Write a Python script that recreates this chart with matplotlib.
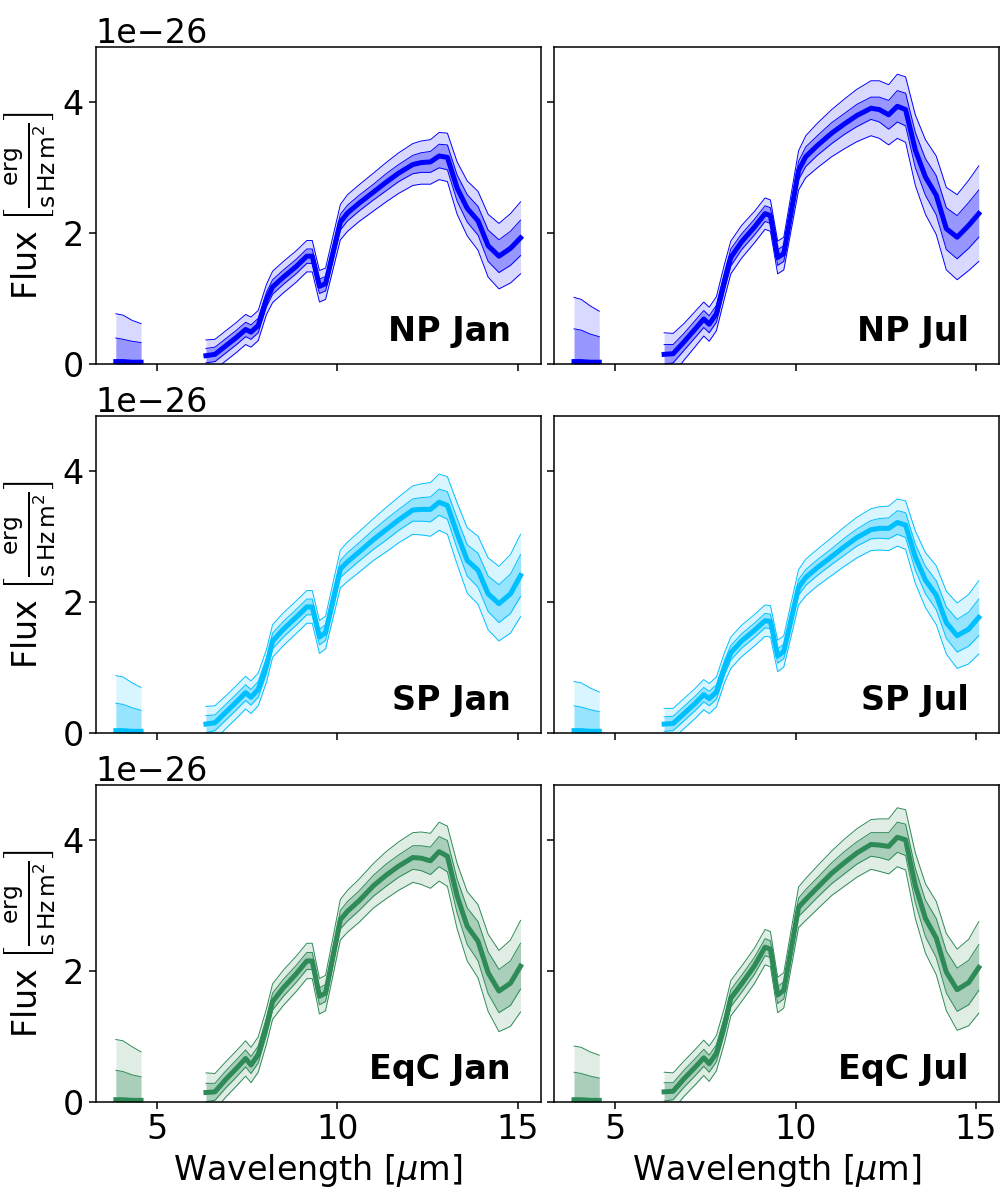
import numpy as np
import matplotlib
matplotlib.use("Agg")
import matplotlib.pyplot as plt

# ---------------- data (flux in units of 1e-26 erg s^-1 Hz^-1 m^-2) ----------------
wl_short = [3.85, 4.05, 4.3, 4.55]
wl_long = [6.35, 6.6, 6.9, 7.2, 7.45, 7.6, 7.8, 8.03, 8.2, 8.5, 8.85, 9.15, 9.3, 9.5,
           9.67, 10.08, 10.28, 10.6, 11.0, 11.35, 11.7, 12.09, 12.32, 12.58, 12.82,
           13.05, 13.32, 13.6, 13.9, 14.18, 14.48, 14.8, 15.08]

# NP Jan
np_jan_short_mean = [0.03, 0.03, 0.02, 0.02]
np_jan_short_in = [0.36, 0.34, 0.32, 0.30]
np_jan_short_out = [0.73, 0.71, 0.64, 0.59]
np_jan_mean = [0.12, 0.14, 0.27, 0.40, 0.52, 0.48, 0.58, 0.98, 1.17, 1.32, 1.48, 1.64, 1.64, 1.18,
               1.22, 2.16, 2.30, 2.45, 2.62, 2.77, 2.91, 3.04, 3.07, 3.08, 3.17, 3.15, 2.68, 2.37,
               2.18, 1.80, 1.64, 1.76, 1.92]
np_jan_in = [0.11, 0.11, 0.11, 0.11, 0.11, 0.11, 0.11, 0.11, 0.11, 0.11, 0.11, 0.11, 0.11, 0.11,
             0.11, 0.12, 0.12, 0.12, 0.12, 0.13, 0.13, 0.14, 0.15, 0.16, 0.18, 0.19, 0.20, 0.21,
             0.22, 0.24, 0.25, 0.26, 0.27]
np_jan_out = [0.24, 0.23, 0.23, 0.23, 0.23, 0.23, 0.23, 0.23, 0.24, 0.24, 0.24, 0.24, 0.24, 0.24,
              0.24, 0.27, 0.28, 0.28, 0.29, 0.30, 0.31, 0.32, 0.33, 0.34, 0.36, 0.37, 0.40, 0.42,
              0.45, 0.48, 0.50, 0.53, 0.55]

# NP Jul
np_jul_short_mean = [0.03, 0.03, 0.02, 0.02]
np_jul_short_in = [0.50, 0.48, 0.43, 0.39]
np_jul_short_out = [0.98, 0.95, 0.86, 0.78]
np_jul_mean = [0.14, 0.15, 0.33, 0.52, 0.68, 0.60, 0.76, 1.27, 1.62, 1.86, 2.08, 2.29, 2.26, 1.62,
               1.68, 2.95, 3.16, 3.33, 3.52, 3.66, 3.79, 3.90, 3.88, 3.80, 3.93, 3.88, 3.26, 2.85,
               2.57, 2.06, 1.93, 2.11, 2.29]
np_jul_in = [0.15, 0.14, 0.13, 0.13, 0.13, 0.13, 0.13, 0.13, 0.13, 0.12, 0.12, 0.12, 0.12, 0.12,
             0.12, 0.14, 0.15, 0.15, 0.16, 0.16, 0.17, 0.17, 0.19, 0.22, 0.24, 0.25, 0.27, 0.28,
             0.30, 0.32, 0.33, 0.35, 0.36]
np_jul_out = [0.33, 0.31, 0.28, 0.27, 0.26, 0.26, 0.26, 0.26, 0.25, 0.25, 0.24, 0.24, 0.24, 0.25,
              0.25, 0.30, 0.32, 0.34, 0.36, 0.38, 0.40, 0.42, 0.44, 0.46, 0.49, 0.50, 0.54, 0.57,
              0.60, 0.63, 0.65, 0.69, 0.73]

# SP Jan
sp_jan_short_mean = [0.03, 0.03, 0.02, 0.02]
sp_jan_short_in = [0.42, 0.40, 0.36, 0.32]
sp_jan_short_out = [0.84, 0.82, 0.74, 0.67]
sp_jan_mean = [0.13, 0.15, 0.31, 0.47, 0.61, 0.54, 0.66, 1.02, 1.40, 1.58, 1.76, 1.92, 1.92, 1.46,
               1.53, 2.50, 2.61, 2.76, 2.95, 3.10, 3.25, 3.40, 3.41, 3.41, 3.52, 3.47, 3.04, 2.63,
               2.48, 2.12, 1.97, 2.12, 2.40]
sp_jan_in = [0.13, 0.12, 0.12, 0.12, 0.12, 0.12, 0.12, 0.12, 0.12, 0.12, 0.12, 0.12, 0.12, 0.12,
             0.12, 0.13, 0.14, 0.14, 0.15, 0.16, 0.16, 0.17, 0.18, 0.19, 0.20, 0.21, 0.23, 0.24,
             0.26, 0.27, 0.29, 0.30, 0.32]
sp_jan_out = [0.27, 0.26, 0.25, 0.25, 0.25, 0.25, 0.25, 0.25, 0.25, 0.25, 0.25, 0.25, 0.25, 0.25,
              0.25, 0.29, 0.30, 0.31, 0.32, 0.34, 0.35, 0.37, 0.39, 0.41, 0.43, 0.44, 0.47, 0.50,
              0.52, 0.55, 0.57, 0.60, 0.63]

# SP Jul
sp_jul_short_mean = [0.03, 0.03, 0.02, 0.02]
sp_jul_short_in = [0.38, 0.36, 0.33, 0.30]
sp_jul_short_out = [0.75, 0.73, 0.66, 0.60]
sp_jul_mean = [0.13, 0.14, 0.29, 0.44, 0.58, 0.52, 0.62, 1.00, 1.22, 1.40, 1.56, 1.71, 1.70, 1.17,
               1.24, 2.22, 2.37, 2.52, 2.69, 2.84, 2.98, 3.10, 3.12, 3.12, 3.21, 3.17, 2.68, 2.33,
               2.10, 1.68, 1.48, 1.58, 1.76]
sp_jul_in = [0.11, 0.11, 0.11, 0.11, 0.11, 0.11, 0.11, 0.11, 0.11, 0.11, 0.11, 0.11, 0.11, 0.11,
             0.11, 0.12, 0.12, 0.12, 0.12, 0.13, 0.13, 0.14, 0.15, 0.16, 0.18, 0.19, 0.20, 0.21,
             0.22, 0.24, 0.25, 0.26, 0.28]
sp_jul_out = [0.24, 0.23, 0.23, 0.23, 0.23, 0.23, 0.23, 0.23, 0.24, 0.24, 0.24, 0.24, 0.24, 0.24,
              0.24, 0.27, 0.28, 0.28, 0.29, 0.30, 0.31, 0.32, 0.33, 0.34, 0.36, 0.37, 0.40, 0.42,
              0.45, 0.48, 0.50, 0.53, 0.56]

# EqC Jan
eqc_jan_short_mean = [0.03, 0.03, 0.02, 0.02]
eqc_jan_short_in = [0.45, 0.43, 0.39, 0.36]
eqc_jan_short_out = [0.92, 0.90, 0.82, 0.74]
eqc_jan_mean = [0.14, 0.15, 0.34, 0.51, 0.66, 0.56, 0.72, 1.15, 1.53, 1.74, 1.95, 2.15, 2.15, 1.61,
                1.66, 2.78, 2.91, 3.07, 3.30, 3.46, 3.60, 3.73, 3.72, 3.68, 3.82, 3.75, 3.14, 2.68,
                2.45, 1.97, 1.69, 1.81, 2.07]
eqc_jan_in = [0.14, 0.13, 0.13, 0.13, 0.13, 0.13, 0.13, 0.13, 0.13, 0.13, 0.13, 0.13, 0.13, 0.13,
              0.13, 0.14, 0.15, 0.15, 0.16, 0.17, 0.17, 0.18, 0.19, 0.21, 0.23, 0.24, 0.26, 0.28,
              0.30, 0.32, 0.33, 0.34, 0.35]
eqc_jan_out = [0.30, 0.28, 0.27, 0.27, 0.27, 0.27, 0.27, 0.27, 0.27, 0.27, 0.27, 0.27, 0.27, 0.27,
               0.27, 0.31, 0.32, 0.33, 0.34, 0.36, 0.37, 0.38, 0.40, 0.42, 0.45, 0.46, 0.50, 0.53,
               0.56, 0.59, 0.62, 0.66, 0.70]

# EqC Jul
eqc_jul_short_mean = [0.03, 0.03, 0.02, 0.02]
eqc_jul_short_in = [0.42, 0.40, 0.37, 0.34]
eqc_jul_short_out = [0.82, 0.80, 0.74, 0.69]
eqc_jul_mean = [0.15, 0.16, 0.35, 0.52, 0.67, 0.58, 0.74, 1.18, 1.58, 1.80, 2.07, 2.36, 2.33, 1.63,
                1.70, 2.97, 3.09, 3.27, 3.49, 3.65, 3.80, 3.93, 3.92, 3.90, 4.04, 4.00, 3.30, 2.80,
                2.50, 1.98, 1.71, 1.82, 2.05]
eqc_jul_in = [0.14, 0.13, 0.13, 0.13, 0.13, 0.13, 0.13, 0.13, 0.13, 0.13, 0.13, 0.13, 0.13, 0.13,
              0.13, 0.14, 0.15, 0.15, 0.16, 0.17, 0.17, 0.18, 0.19, 0.21, 0.23, 0.24, 0.26, 0.28,
              0.30, 0.32, 0.33, 0.34, 0.35]
eqc_jul_out = [0.30, 0.28, 0.27, 0.27, 0.27, 0.27, 0.27, 0.27, 0.27, 0.27, 0.27, 0.27, 0.27, 0.27,
               0.27, 0.31, 0.32, 0.33, 0.34, 0.36, 0.37, 0.38, 0.40, 0.42, 0.45, 0.46, 0.50, 0.53,
               0.56, 0.59, 0.62, 0.66, 0.70]

panel_labels = ["NP Jan", "NP Jul", "SP Jan", "SP Jul", "EqC Jan", "EqC Jul"]
panel_colors = ["blue", "blue", "deepskyblue", "deepskyblue", "seagreen", "seagreen"]
panel_data = [
    (np_jan_short_mean, np_jan_short_in, np_jan_short_out, np_jan_mean, np_jan_in, np_jan_out),
    (np_jul_short_mean, np_jul_short_in, np_jul_short_out, np_jul_mean, np_jul_in, np_jul_out),
    (sp_jan_short_mean, sp_jan_short_in, sp_jan_short_out, sp_jan_mean, sp_jan_in, sp_jan_out),
    (sp_jul_short_mean, sp_jul_short_in, sp_jul_short_out, sp_jul_mean, sp_jul_in, sp_jul_out),
    (eqc_jan_short_mean, eqc_jan_short_in, eqc_jan_short_out, eqc_jan_mean, eqc_jan_in, eqc_jan_out),
    (eqc_jul_short_mean, eqc_jul_short_in, eqc_jul_short_out, eqc_jul_mean, eqc_jul_in, eqc_jul_out),
]
scale = 1e-26
ytop = 4.84

# ---------------- figure ----------------
FS = 24
plt.rcParams["font.family"] = ["DejaVu Sans"]
plt.rcParams["font.size"] = FS
plt.rcParams["axes.linewidth"] = 1.1

fig, axes = plt.subplots(3, 2, sharex=True, sharey=True, figsize=(10.01, 11.95), dpi=100)
fig.subplots_adjust(left=0.0955, right=0.998, top=0.9609, bottom=0.0781,
                    wspace=0.0292, hspace=0.165)


def draw_segment(ax, wl, mean, s_in, s_out, color):
    wl = np.asarray(wl)
    m = np.asarray(mean) * scale
    si = np.asarray(s_in) * scale
    so = np.asarray(s_out) * scale
    ax.fill_between(wl, m - so, m + so, color=color, alpha=0.15, lw=0)
    ax.fill_between(wl, m - si, m + si, color=color, alpha=0.30, lw=0)
    for edge in (m - so, m + so, m - si, m + si):
        ax.plot(wl, edge, color=color, lw=0.7)
    ax.plot(wl, m, color=color, lw=3.6)


for ax, label, color, data in zip(axes.flat, panel_labels, panel_colors, panel_data):
    sm, si, so, lm, li, lo = data
    draw_segment(ax, wl_short, sm, si, so, color)
    draw_segment(ax, wl_long, lm, li, lo, color)
    ax.text(0.932, 0.072, label, transform=ax.transAxes, ha="right", va="baseline",
            fontsize=FS, fontweight="bold")
    ax.tick_params(axis="both", which="major", length=5, width=1.1, labelsize=FS)

axes[0, 0].set_ylim(0, ytop * scale)
axes[0, 0].set_xticks([5, 10, 15])
axes[0, 0].set_yticks([0, 2e-26, 4e-26])

for ax in axes[:, 0]:
    ax.set_ylabel(r"Flux $\left[\mathrm{\frac{erg}{s\,Hz\,m^{2}}}\right]$", fontsize=FS)
for ax in axes[-1, :]:
    ax.set_xlabel(r"Wavelength [$\mu$m]", fontsize=FS)

fig.savefig("out.png", dpi=100)
